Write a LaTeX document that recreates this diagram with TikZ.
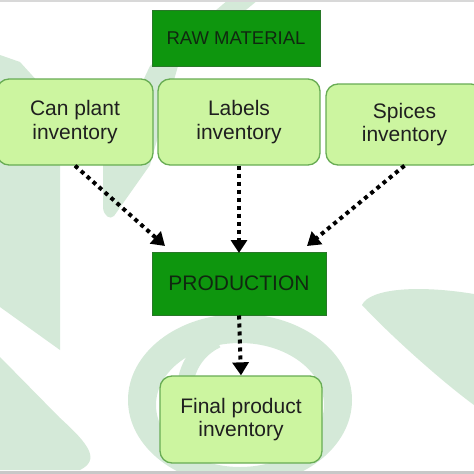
\documentclass[tikz,border=0pt]{standalone}
\usepackage{fontspec}
\setmainfont{Liberation Sans}
\usetikzlibrary{arrows.meta}
\definecolor{wm}{RGB}{212,233,216}
\definecolor{boxfill}{RGB}{204,245,160}
\definecolor{boxline}{RGB}{104,172,84}
\definecolor{darkfill}{RGB}{14,150,14}
\definecolor{darkline}{RGB}{40,120,40}
\definecolor{darktext}{RGB}{16,40,16}
\definecolor{bandgray}{RGB}{200,200,200}
\tikzset{
  inv/.style={draw=boxline, fill=boxfill, rounded corners=12pt, line width=1.3pt,
    align=center, inner sep=0pt, text=black!88,
    font=\fontsize{21}{23.5}\selectfont},
  stage/.style={draw=darkline, fill=darkfill, line width=1pt, inner sep=0pt,
    text=darktext},
  flow/.style={line width=4pt, dash pattern=on 4pt off 4pt,
    -{Triangle[width=16pt,length=13pt]}}
}
\begin{document}
\begin{tikzpicture}[x=1pt,y=-1pt]
\useasboundingbox (0,0) rectangle (474,474);
\fill[white] (0,0) rectangle (474,474);
% watermark shapes
\fill[wm] (0,55) -- (20,62) -- (50,95) -- (60,150) -- (60,350) -- (0,307) -- cycle;
\fill[wm] (0,357) -- (60,418) .. controls (90,445) and (100,460) .. (80,470) -- (0,470) -- cycle;
\fill[wm] (103,165) -- (103,208) .. controls (104,216) and (110,220) .. (114,216)
  -- (150,165) -- (178,66) -- (258,0) -- (228,0) -- (150,66) -- cycle;
\fill[wm, even odd rule] (240,400) ellipse [x radius=112, y radius=86]
  (240,405) ellipse [x radius=84, y radius=62];
\draw[wm, line width=16pt] (185,390) arc[start angle=180, end angle=245, radius=55];
\fill[wm] (362,305) .. controls (370,288) and (420,285) .. (474,294) -- (474,405)
  .. controls (440,380) and (390,335) .. (362,305) -- cycle;
% gray bands
\fill[bandgray!70] (0,0) rectangle (474,2);
\fill[bandgray] (0,471) rectangle (474,474);
% nodes
\node[stage, minimum width=168pt, minimum height=56pt, font=\fontsize{18.5}{21}\selectfont]
  (raw) at (236,38) {RAW MATERIAL};
\node[inv, minimum width=156pt, minimum height=86pt] (cp) at (75,122) {Can plant\\inventory};
\node[inv, minimum width=162pt, minimum height=86pt] (lab) at (239,122) {Labels\\inventory};
\node[inv, minimum width=157pt, minimum height=81pt] (sp) at (404.5,124.5) {Spices\\inventory};
\node[stage, minimum width=174pt, minimum height=63pt, font=\fontsize{21}{24}\selectfont]
  (prod) at (239,283.5) {PRODUCTION};
\node[inv, minimum width=162pt, minimum height=87pt] (fin) at (241,419.5) {Final product\\inventory};
% connectors
\coordinate (tl) at (165,246);
\coordinate (tm) at (239,253);
\coordinate (tr) at (307,246);
\draw[flow] (cp.south) -- (tl);
\draw[flow] (lab.south) -- (tm);
\draw[flow] (sp.south) -- (tr);
\draw[flow] (prod.south) -- (fin.north);
\end{tikzpicture}
\end{document}
